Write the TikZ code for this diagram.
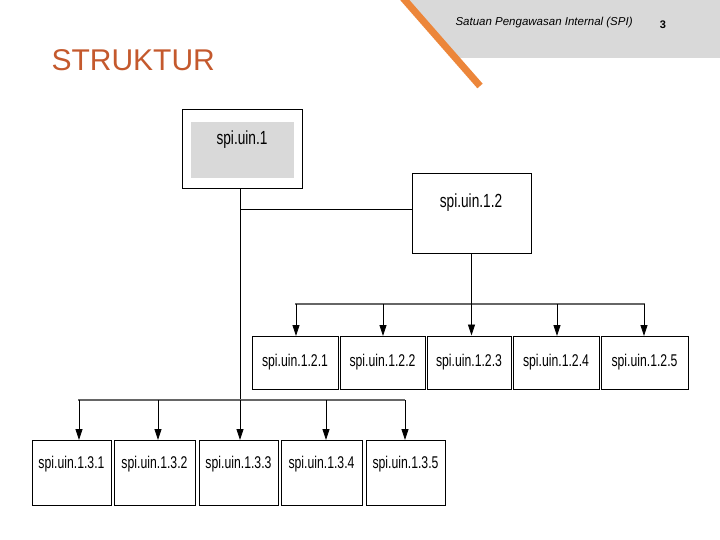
\documentclass[tikz,border=0pt]{standalone}
\usepackage{fontspec}
\setmainfont{Liberation Sans}
\newfontfamily\narrowfont[FakeStretch=0.72]{Liberation Sans}
\usetikzlibrary{arrows.meta}
\definecolor{orng}{RGB}{236,134,58}
\definecolor{titlec}{RGB}{196,89,45}
\definecolor{bandgray}{RGB}{217,217,217}
\begin{document}
\begin{tikzpicture}[x=1pt,y=-1pt,
  box/.style={draw,line width=1pt,fill=white},
  lbl/.style={font=\narrowfont\fontsize{17}{17}\selectfont},
  arr/.style={-{Triangle[length=11pt,width=7pt]},line width=0.8pt},
  bus/.style={draw=gray!80!black,line width=2pt}]
\useasboundingbox (0,0) rectangle (720,540);
\fill[bandgray] (405,0) -- (720,0) -- (720,58) -- (456,58) -- cycle;
\draw[orng,line width=7pt] (403,-2) -- (480,86);
\node[font=\itshape\fontsize{11.5}{11.5}\selectfont,anchor=west] (hdr) at (452,23) {Satuan Pengawasan Internal (SPI)};
\node[font=\bfseries\fontsize{11}{11}\selectfont] (pg) at (663,25) {3};
\node[font=\fontsize{30}{30}\selectfont,text=titlec,anchor=west] (title) at (48,60) {STRUKTUR};
% top boxes
\draw[box] (182,110) rectangle (302,189);
\fill[bandgray] (191,122) rectangle (294,178);
\node[lbl,font=\narrowfont\fontsize{19}{19}\selectfont] (n1) at (242,140) {spi.uin.1};
\coordinate (n1b) at (240,189);
\node[box,minimum width=119pt,minimum height=79pt] (n12) at (471.5,213.5) {};
\node[lbl,font=\narrowfont\fontsize{19}{19}\selectfont] (n12t) at (471,203) {spi.uin.1.2};
\coordinate (j1) at (240,210);
\coordinate (n1e) at (240,437);
\draw[line width=1pt] (n1b) -- (n1e);
\draw[line width=1pt] (j1) -- (n12.west |- j1);
% level 1.2.x
\draw[bus] (295,304) -- (645,304);
\foreach \i/\xa/\xb in {1/252/338,2/340/425,3/427/511,4/513/599,5/601/688}{
  \node[box,minimum width=\xb pt-\xa pt,minimum height=53pt,lbl] (b2\i) at ({(\xa+\xb)/2},362.5) {spi.uin.1.2.\i};
}
\foreach \i/\x in {1/296,2/383,4/557,5/644}{
  \coordinate (t2\i) at (\x,304);
  \draw[arr] (t2\i) -- (\x,336);
}
\draw[arr] (n12.south) -- (n12.south |- b23.north);
% level 1.3.x
\draw[bus] (78,400) -- (405,400);
\foreach \i/\xa/\xb in {1/32/111,2/114/195,3/199/278,4/281/362,5/366/445}{
  \node[box,minimum width=\xb pt-\xa pt,minimum height=65pt] (b3\i) at ({(\xa+\xb)/2},472.5) {};
  \node[lbl] (b3\i t) at ({(\xa+\xb)/2},464) {spi.uin.1.3.\i};
}
\foreach \i/\x in {1/79,2/158,3/240,4/326,5/405}{
  \coordinate (t3\i) at (\x,400);
  \draw[arr] (t3\i) -- (\x,440);
}
\end{tikzpicture}
\end{document}
